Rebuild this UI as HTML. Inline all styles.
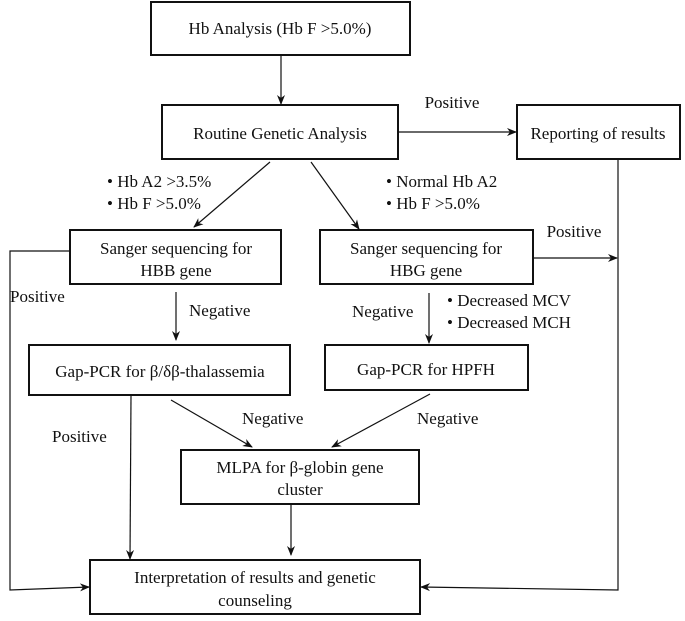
<!DOCTYPE html>
<html><head><meta charset="utf-8"><style>
html,body{margin:0;padding:0;background:#fff;}
svg{display:block;}
text{font-family:"Liberation Serif",serif;font-size:17px;fill:#111;}
</style></head><body>
<svg width="685" height="621" viewBox="0 0 685 621" xmlns="http://www.w3.org/2000/svg">
<defs><marker id="a" markerWidth="10" markerHeight="10" refX="9" refY="5" orient="auto" markerUnits="userSpaceOnUse"><path d="M0,1 L10,5 L0,9 L3,5 Z" fill="#111"/></marker></defs>
<g fill="none" stroke="#111" stroke-width="2">
<rect x="151" y="2" width="259" height="53"/>
<rect x="162" y="105" width="236" height="54"/>
<rect x="517" y="105" width="163" height="54"/>
<rect x="70" y="230" width="211" height="54"/>
<rect x="320" y="230" width="213" height="54"/>
<rect x="29" y="345" width="261" height="50"/>
<rect x="325" y="345" width="203" height="45"/>
<rect x="181" y="450" width="238" height="54"/>
<rect x="90" y="560" width="330" height="54"/>
</g>
<g fill="none" stroke="#111" stroke-width="1.2" marker-end="url(#a)">
<line x1="281" y1="56" x2="281" y2="104"/>
<line x1="398" y1="132" x2="516" y2="132"/>
<line x1="270" y1="162" x2="194" y2="227"/>
<line x1="311" y1="162" x2="359" y2="229"/>
<line x1="533" y1="258" x2="617" y2="258"/>
<line x1="176" y1="292" x2="176" y2="340"/>
<line x1="429" y1="293" x2="429" y2="343"/>
<line x1="171" y1="400" x2="252" y2="447"/>
<line x1="430" y1="394" x2="332" y2="447"/>
<line x1="131" y1="396" x2="130" y2="559"/>
<line x1="291" y1="505" x2="291" y2="555"/>
<polyline points="70,251 10,251 10,590 89,587"/>
<polyline points="618,160 618,590 421,587"/>
</g>
<text x="280" y="34" text-anchor="middle">Hb Analysis (Hb F &gt;5.0%)</text>
<text x="280" y="139" text-anchor="middle">Routine Genetic Analysis</text>
<text x="598" y="139" text-anchor="middle">Reporting of results</text>
<text x="452" y="108" text-anchor="middle">Positive</text>
<text x="107" y="187">• Hb A2 &gt;3.5%</text>
<text x="107" y="209">• Hb F &gt;5.0%</text>
<text x="386" y="187">• Normal Hb A2</text>
<text x="386" y="209">• Hb F &gt;5.0%</text>
<text x="176" y="254" text-anchor="middle">Sanger sequencing for</text>
<text x="176" y="276" text-anchor="middle">HBB gene</text>
<text x="426" y="254" text-anchor="middle">Sanger sequencing for</text>
<text x="426" y="276" text-anchor="middle">HBG gene</text>
<text x="574" y="237" text-anchor="middle">Positive</text>
<text x="10" y="302">Positive</text>
<text x="189" y="316">Negative</text>
<text x="352" y="317">Negative</text>
<text x="447" y="306">• Decreased MCV</text>
<text x="447" y="328">• Decreased MCH</text>
<text x="160" y="377" text-anchor="middle">Gap-PCR for β/δβ-thalassemia</text>
<text x="426" y="375" text-anchor="middle">Gap-PCR for HPFH</text>
<text x="242" y="424">Negative</text>
<text x="417" y="424">Negative</text>
<text x="52" y="442">Positive</text>
<text x="300" y="473" text-anchor="middle">MLPA for β-globin gene</text>
<text x="300" y="495" text-anchor="middle">cluster</text>
<text x="255" y="583" text-anchor="middle">Interpretation of results and genetic</text>
<text x="255" y="606" text-anchor="middle">counseling</text>
</svg>
</body></html>
